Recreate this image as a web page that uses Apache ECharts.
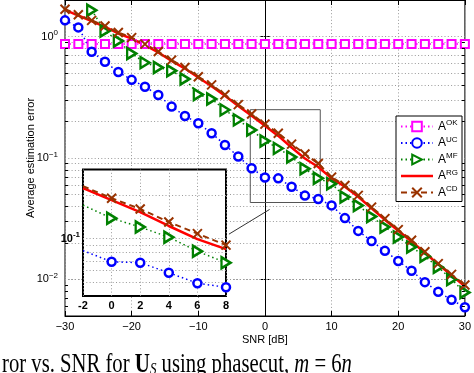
<!DOCTYPE html>
<html><head><meta charset="utf-8">
<script src="https://cdn.jsdelivr.net/npm/echarts@6/dist/echarts.min.js"></script>
<style>html,body{margin:0;padding:0;background:#fff}#c{width:474px;height:373px}</style>
</head><body><div id="c"></div>
<script>
// ---------------- data ----------------
const snr = [-30,-28,-26,-24,-22,-20,-18,-16,-14,-12,-10,-8,-6,-4,-2,0,2,4,6,8,10,12,14,16,18,20,22,24,26,28,30];
const seriesNames = ['OK','UC','MF','RG','CD'];
const okVals = [0.87,0.87,0.87,0.87,0.87,0.87,0.87,0.87,0.87,0.87,0.87,0.87,0.87,0.87,0.87,0.87,0.87,0.87,0.87,0.87,0.87,0.87,0.87,0.87,0.87,0.87,0.87,0.87,0.87,0.87,0.87];
const ucVals = [1.36,1.19,0.75,0.62,0.51,0.44,0.386,0.33,0.265,0.222,0.193,0.16,0.128,0.103,0.0824,0.069,0.068,0.058,0.049,0.046,0.0407,0.032,0.0251,0.0207,0.0172,0.0142,0.0118,0.0095,0.0079,0.0068,0.0059];
const mfVals = [null,null,1.65,1.11,0.92,0.725,0.61,0.557,0.523,0.447,0.333,0.306,0.249,0.206,0.17,0.138,0.12,0.102,0.0815,0.068,0.0615,0.0478,0.0407,0.033,0.027,0.0224,0.0185,0.0155,0.0126,0.01,0.0078];
const rgVals = [1.66,1.49,1.34,1.2,1.06,0.96,0.85,0.74,0.63,0.545,0.46,0.39,0.325,0.268,0.223,0.184,0.152,0.122,0.099,0.0844,0.068,0.058,0.048,0.0385,0.031,0.0252,0.0205,0.0166,0.0133,0.0108,0.0088];
const cdVals = [1.68,1.51,1.36,1.22,1.08,0.98,0.867,0.753,0.64,0.557,0.467,0.40,0.332,0.275,0.23,0.19,0.16,0.13,0.108,0.09,0.0696,0.0594,0.0492,0.0394,0.0317,0.0257,0.021,0.0169,0.0135,0.011,0.009];
const insetRange = [-2, 8];
const zoomBox = [[-2.2, 0.25], [8.3, 0.043]];
const connector = [[-5.4, 0.0236], [0.7, 0.0377]];
const caption = 'ror vs. SNR for {U|U}{S|S} using phasecut, {i|m} = 6{i|n}';

// ---------------- styles ----------------
const FONT = '"Liberation Sans", Arial, Helvetica, sans-serif';
const SERIF = '"Liberation Serif", "Times New Roman", serif';
const GRID = '#9a9a9a';
const DOT = [1, 2.3];
const look = {
  OK: {vals: okVals, color: '#ff00ff', line: {type: [1.5, 3], width: 1.5}, symbol: 'rect', size: 8, bw: 2},
  UC: {vals: ucVals, color: '#0000ff', line: {type: [1.5, 3], width: 1.5}, symbol: 'circle', size: 8, bw: 2.5},
  MF: {vals: mfVals, color: '#008000', line: {type: [1.5, 3], width: 1.5}, symbol: 'triangle', size: [11, 9], rot: -90, bw: 2.5},
  RG: {vals: rgVals, color: '#ff0000', line: {type: 'solid', width: 2.5}, symbol: 'none', size: 0, bw: 0},
  CD: {vals: cdVals, color: '#993300', line: {type: [6, 4], width: 2}, symbol: 'path://M0,0L10,10M10,0L0,10', size: 9, bw: 2}
};

function decade(v, minus) {
  const e = Math.log10(v), r = Math.round(e);
  if (Math.abs(e - r) > 1e-6) return '';
  return '{b|10}{s|' + (r < 0 ? minus + (-r) : String(r)) + '}';
}

const chart = echarts.init(document.getElementById('c'), null, {renderer: 'canvas'});

function makeSeries(name, inset) {
  const L = look[name];
  let data = snr.map((x, i) => [x, L.vals[i]]);
  if (inset) {
    data = data.filter(p => p[0] >= insetRange[0] && p[0] <= insetRange[1])
               .map(p => p[0] === insetRange[0] ? {value: p, symbol: 'none'} : p);
  }
  return {
    type: 'line', name: name,
    xAxisIndex: inset ? 2 : 0, yAxisIndex: inset ? 2 : 0,
    data: data, z: inset ? 8 : 2,
    symbol: L.symbol, symbolSize: L.size, symbolRotate: L.rot || 0,
    showAllSymbol: true, connectNulls: false,
    lineStyle: {color: L.color, width: L.line.width, type: L.line.type, cap: 'butt'},
    itemStyle: {color: '#fff', borderColor: L.color, borderWidth: L.bw},
    emphasis: {disabled: true}, silent: true, animation: false
  };
}

// grid lines / minor ticks for log axes
const gridMain = [];
for (const e of [-3, -2, -1, 0]) for (let m = 1; m <= 9; m++) {
  const v = +(m * Math.pow(10, e)).toPrecision(2);
  if (v > 0.005 && v < 2) gridMain.push(v);
}
const gridInset = [];
for (const e of [-2, -1]) for (let m = 1; m <= 9; m++) {
  const v = +(m * Math.pow(10, e)).toPrecision(2);
  if (v > 0.04 && v < 0.3) gridInset.push(v);
}
const minorTicks = [];
gridMain.filter(v => Math.abs(Math.log10(v) - Math.round(Math.log10(v))) > 1e-6).forEach(v => {
  minorTicks.push([{coord: [-30, v]}, {coord: [-29.55, v]}]);
  minorTicks.push([{coord: [29.55, v]}, {coord: [30, v]}]);
});

const series = [
  {type: 'line', name: '_grid', xAxisIndex: 0, yAxisIndex: 0, data: [], z: 1, silent: true,
   markLine: {z: 1, silent: true, animation: false, symbol: ['none', 'none'], label: {show: false},
     lineStyle: {color: GRID, type: DOT, width: 1}, emphasis: {disabled: true},
     data: gridMain.map(v => ({yAxis: v}))}},
  {type: 'line', name: '_deco', xAxisIndex: 0, yAxisIndex: 0, data: [], z: 3, silent: true,
   markLine: {z: 3, silent: true, animation: false, symbol: ['none', 'none'], label: {show: false},
     lineStyle: {color: '#000', type: 'solid', width: 1}, emphasis: {disabled: true},
     data: minorTicks.concat([[{coord: connector[0], lineStyle: {color: '#333', width: 1}}, {coord: connector[1]}]])},
   markArea: {z: 1.5, silent: true, animation: false, label: {show: false},
     itemStyle: {color: 'rgba(0,0,0,0)', borderColor: '#555', borderWidth: 1}, emphasis: {disabled: true},
     data: [[{coord: zoomBox[0]}, {coord: zoomBox[1]}]]}},
  {type: 'line', name: '_igrid', xAxisIndex: 2, yAxisIndex: 2, data: [], z: 7, silent: true,
   markLine: {z: 7, silent: true, animation: false, symbol: ['none', 'none'], label: {show: false},
     lineStyle: {color: GRID, type: DOT, width: 1}, emphasis: {disabled: true},
     data: gridInset.map(v => ({yAxis: v}))}}
];
seriesNames.forEach(n => series.push(makeSeries(n, false)));
seriesNames.forEach(n => series.push(makeSeries(n, true)));

const legendData = seriesNames.map(n => n === 'RG'
  ? {name: n, icon: 'path://M0,0H32V2.5H0Z', itemStyle: {color: look.RG.color, borderWidth: 0}}
  : {name: n});

const tickStyle = {inside: true, length: 5, lineStyle: {color: '#000', width: 1}};
const option = {
  animation: false,
  backgroundColor: '#fff',
  textStyle: {fontFamily: FONT},
  grid: [
    {left: 65, top: -1, width: 401, height: 317, show: true, borderColor: '#000', borderWidth: 1, backgroundColor: 'rgba(0,0,0,0)', z: 0},
    {left: 83, top: 169.5, width: 143, height: 126.5, show: true, borderColor: '#000', borderWidth: 2, backgroundColor: '#fff', z: 6}
  ],
  xAxis: [
    {type: 'value', gridIndex: 0, min: -30, max: 30, interval: 10,
     axisLine: {show: true, lineStyle: {color: '#000', width: 1}}, axisTick: tickStyle,
     axisLabel: {color: '#000', fontSize: 11, margin: 5, fontFamily: FONT, formatter: v => String(v).replace('-', '\u2212')},
     splitLine: {show: true, lineStyle: {color: GRID, type: DOT, width: 1}},
     name: 'SNR [dB]', nameLocation: 'middle', nameGap: 18, nameMoveOverlap: false,
     nameTextStyle: {color: '#000', fontSize: 11, fontFamily: FONT}},
    {type: 'value', gridIndex: 0, position: 'top', min: -30, max: 30, interval: 10,
     axisLine: {show: true, lineStyle: {color: '#000', width: 1}}, axisTick: tickStyle,
     axisLabel: {show: false}, splitLine: {show: false}},
    {type: 'value', gridIndex: 1, min: insetRange[0], max: insetRange[1], interval: 2, z: 7,
     axisLine: {show: false}, axisTick: {show: false},
     axisLabel: {color: '#000', fontSize: 11, fontWeight: 'bold', margin: 4, fontFamily: FONT},
     splitLine: {show: true, lineStyle: {color: GRID, type: DOT, width: 1}}}
  ],
  yAxis: [
    {type: 'log', logBase: 10, gridIndex: 0, min: 0.005, max: 2,
     axisLine: {show: true, lineStyle: {color: '#000', width: 1}}, axisTick: tickStyle,
     splitLine: {show: false}, minorTick: {show: false},
     axisLabel: {color: '#000', margin: 7, showMinLabel: false, showMaxLabel: false, formatter: v => decade(v, '\u2212'),
       rich: {b: {fontSize: 11, fontFamily: FONT, color: '#000'}, s: {fontSize: 8, fontFamily: FONT, color: '#000', padding: [0, 0, 7, 0]}}},
     name: 'Average estimation error', nameLocation: 'middle', nameGap: 29, nameRotate: 90, nameMoveOverlap: false,
     nameTextStyle: {color: '#000', fontSize: 11, fontFamily: FONT}},
    {type: 'log', logBase: 10, gridIndex: 0, position: 'right', min: 0.005, max: 2,
     axisLine: {show: true, lineStyle: {color: '#000', width: 1}}, axisTick: tickStyle,
     axisLabel: {show: false}, splitLine: {show: false}},
    {type: 'log', logBase: 10, gridIndex: 1, min: 0.04, max: 0.3, z: 7,
     axisLine: {show: false}, axisTick: {show: false}, splitLine: {show: false},
     axisLabel: {color: '#000', margin: 3, showMinLabel: false, showMaxLabel: false, formatter: v => decade(v, '-'),
       rich: {b: {fontSize: 11, fontWeight: 'bold', fontFamily: FONT, color: '#000'}, s: {fontSize: 8, fontWeight: 'bold', fontFamily: FONT, color: '#000', padding: [0, 0, 7, 0]}}}}
  ],
  legend: {
    data: legendData, orient: 'vertical', left: 396, top: 116,
    itemWidth: 32, itemHeight: 12, itemGap: 3, itemTextGap: 4,
    padding: [3, 4, 3, 4], backgroundColor: '#fff', borderColor: '#000', borderWidth: 1, borderRadius: 0,
    selectedMode: false, z: 10,
    formatter: n => '{a|A}{s|' + n + '}',
    textStyle: {color: '#000', fontFamily: FONT,
      rich: {a: {fontSize: 12, fontFamily: FONT, color: '#000'}, s: {fontSize: 8, fontFamily: FONT, color: '#000', padding: [0, 0, 7, 0]}}}
  },
  graphic: [{
    type: 'text', x: 2, y: 351, scaleY: 1.3, z: 20, silent: true,
    style: {text: caption, fill: '#000', fontSize: 20.7, fontFamily: SERIF, verticalAlign: 'top',
      rich: {U: {fontSize: 21, fontWeight: 'bold', fontFamily: SERIF, fill: '#000'},
             S: {fontSize: 13, fontStyle: 'italic', fontFamily: SERIF, fill: '#000', padding: [8, 0, 0, 0]},
             i: {fontSize: 20.7, fontStyle: 'italic', fontFamily: SERIF, fill: '#000'}}}
  }],
  series: series
};
chart.setOption(option);
</script>
</body></html>
